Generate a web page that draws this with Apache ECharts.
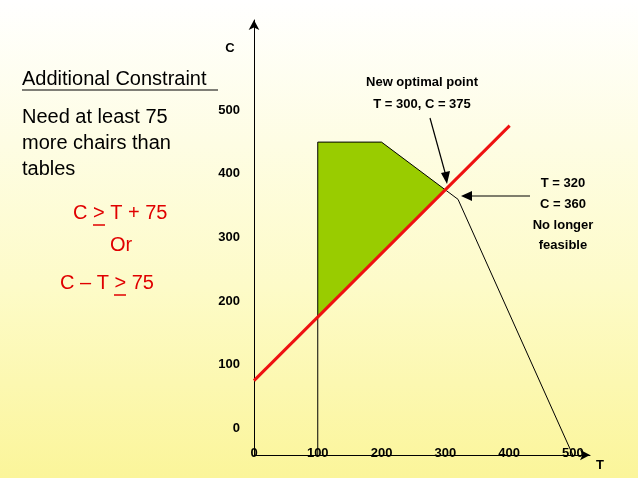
<!DOCTYPE html>
<html><head><meta charset="utf-8">
<script src="https://cdn.jsdelivr.net/npm/echarts@6/dist/echarts.min.js"></script>
<style>html,body{margin:0;padding:0}#c{width:638px;height:478px;background:linear-gradient(#ffffff,#fdfbc8 60%,#fbf59a)}</style>
</head><body><div id="c"></div>
<script>
var xTicks=[0,100,200,300,400,500];
var yTicks=[0,100,200,300,400,500];
var boundary=[[100,-42],[100,450],[200,450],[320,360],[500,-42]];
var greenRegion=[[100,175],[100,450],[200,450],[300,375]];
var redLine=[[0,75],[401,476]];
var chart=echarts.init(document.getElementById('c'));
var F='Liberation Sans';
function t(x,y,s,o){return {type:'text',x:x,y:y,style:Object.assign({text:s,font:'20px '+F,fill:'#000'},o||{})};}
function b(x,y,s){return {type:'text',x:x,y:y,style:{text:s,font:'bold 13px '+F,fill:'#000',align:'center',verticalAlign:'middle'}};}
chart.setOption({
 animation:false,
 grid:{left:254,right:48,top:20,bottom:23},
 xAxis:{type:'value',min:0,max:527,name:'T',nameGap:6,nameTextStyle:{fontWeight:'bold',fontSize:13,color:'#000',fontFamily:F,verticalAlign:'top',padding:[4,0,0,0]},
  axisLine:{onZero:false,symbol:['none','arrow'],symbolSize:[8,10],lineStyle:{color:'#000',width:1}},
  axisTick:{show:false},splitLine:{show:false},
  axisLabel:{customValues:xTicks,fontWeight:'bold',fontSize:13,color:'#000',fontFamily:F,margin:-8,padding:[0,0,0,0]}},
 yAxis:{type:'value',min:-42,max:642,
  axisLine:{show:true,symbol:['none','arrow'],symbolSize:[8,10],lineStyle:{color:'#000',width:1}},
  axisTick:{show:false},splitLine:{show:false},
  axisLabel:{customValues:yTicks,fontWeight:'bold',fontSize:13,color:'#000',fontFamily:F,margin:14,align:'right'}},
 series:[
  {type:'custom',renderItem:function(p,api){return {type:'polygon',shape:{points:greenRegion.map(function(d){return api.coord(d);})},style:{fill:'#99cc00'}};},data:[0],silent:true},
  {type:'line',data:boundary,symbol:'none',lineStyle:{color:'#000',width:1}},
  {type:'line',data:redLine,symbol:'none',lineStyle:{color:'#ee1111',width:3}}
 ],
 graphic:[
  t(22,69,'Additional Constraint'),
  {type:'line',shape:{x1:22,y1:90,x2:218,y2:90},style:{stroke:'#000',lineWidth:1}},
  t(22,107,'Need at least 75'),t(22,133,'more chairs than'),t(22,159,'tables'),
  t(73,203,'C > T + 75',{fill:'#e00000'}),
  {type:'line',shape:{x1:93,y1:225,x2:105,y2:225},style:{stroke:'#e00000',lineWidth:1.5}},
  t(110,235,'Or',{fill:'#e00000'}),
  t(60,273,'C – T > 75',{fill:'#e00000'}),
  {type:'line',shape:{x1:114,y1:295,x2:126,y2:295},style:{stroke:'#e00000',lineWidth:1.5}},
  b(230,48,'C'),
  b(422,82,'New optimal point'),b(422,104,'T = 300, C = 375'),
  b(563,183,'T = 320'),b(563,204,'C = 360'),b(563,225,'No longer'),b(563,245,'feasible'),
  {type:'line',shape:{x1:430,y1:118,x2:446,y2:176},style:{stroke:'#000',lineWidth:1.2}},
  {type:'polygon',shape:{points:[[447,184],[441,173],[450,171]]},style:{fill:'#000'}},
  {type:'line',shape:{x1:530,y1:196,x2:470,y2:196},style:{stroke:'#000',lineWidth:1.2}},
  {type:'polygon',shape:{points:[[461,196],[472,191],[472,201]]},style:{fill:'#000'}}
 ]
});
</script></body></html>
